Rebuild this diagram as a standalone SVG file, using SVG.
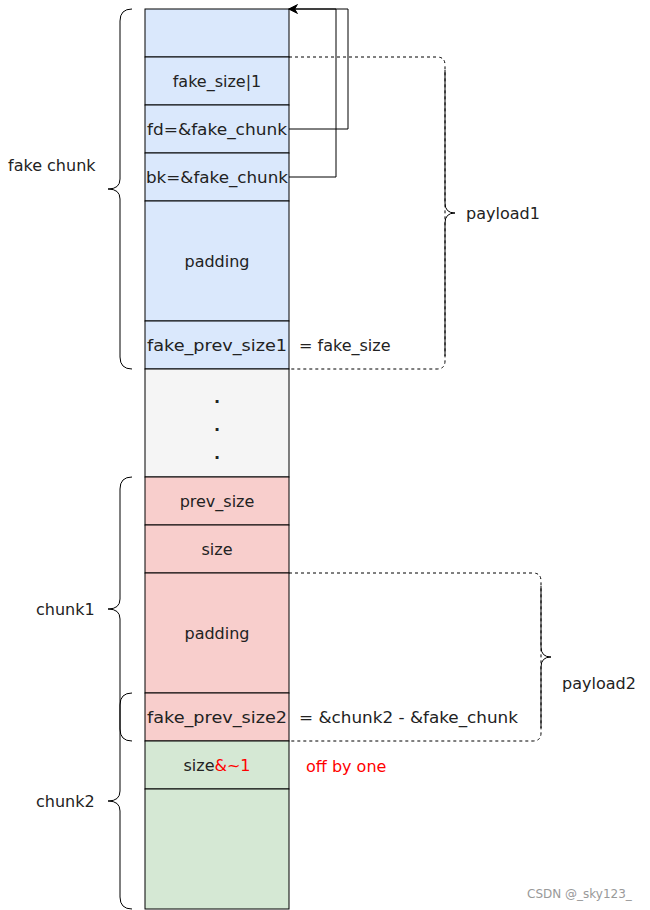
<svg xmlns="http://www.w3.org/2000/svg" width="650" height="910" viewBox="0 0 650 910">
<defs>
<style>
.c{stroke:#000;stroke-width:1}
.b{fill:#dae8fc}.g{fill:#f5f5f5}.r{fill:#f8cecc}.gr{fill:#d5e8d4}
text{font-family:"DejaVu Sans","Liberation Sans",sans-serif;font-size:16px;fill:#222}
.m{text-anchor:middle}
.dot{font-weight:bold}
.br{fill:none;stroke:#000;stroke-width:1}
.d{fill:none;stroke:#000;stroke-dasharray:3 3}
.ln{fill:none;stroke:#000}
</style>
<marker id="ah" markerWidth="10" markerHeight="10" refX="9" refY="5" orient="auto" markerUnits="userSpaceOnUse"><path d="M0,0 L10,5 L0,10 L3,5 Z" fill="#000"/></marker>
</defs>
<rect width="650" height="910" fill="#fff"/>
<g id="cells">
<g id="n0"><rect class="c b" x="145" y="9" width="144" height="48"/></g>
<g id="n1"><rect class="c b" x="145" y="57" width="144" height="48"/><text class="m" x="217" y="87">fake_size|1</text></g>
<g id="n2"><rect class="c b" x="145" y="105" width="144" height="48"/><text class="m" x="217" y="135" textLength="140" lengthAdjust="spacingAndGlyphs">fd=&amp;fake_chunk</text></g>
<g id="n3"><rect class="c b" x="145" y="153" width="144" height="48"/><text class="m" x="217" y="183" textLength="142" lengthAdjust="spacingAndGlyphs">bk=&amp;fake_chunk</text></g>
<g id="n4"><rect class="c b" x="145" y="201" width="144" height="120"/><text class="m" x="217" y="267">padding</text></g>
<g id="n5"><rect class="c b" x="145" y="321" width="144" height="48"/><text class="m" x="217" y="351" textLength="140" lengthAdjust="spacingAndGlyphs">fake_prev_size1</text></g>
<g id="n6"><rect class="c g" x="145" y="369" width="144" height="108"/><text class="m dot" x="217" y="403">.</text><text class="m dot" x="217" y="431">.</text><text class="m dot" x="217" y="459">.</text></g>
<g id="n7"><rect class="c r" x="145" y="477" width="144" height="48"/><text class="m" x="217" y="507">prev_size</text></g>
<g id="n8"><rect class="c r" x="145" y="525" width="144" height="48"/><text class="m" x="217" y="555">size</text></g>
<g id="n9"><rect class="c r" x="145" y="573" width="144" height="120"/><text class="m" x="217" y="639">padding</text></g>
<g id="n10"><rect class="c r" x="145" y="693" width="144" height="48"/><text class="m" x="217" y="723" textLength="140" lengthAdjust="spacingAndGlyphs">fake_prev_size2</text></g>
<g id="n11"><rect class="c gr" x="145" y="741" width="144" height="48"/><text class="m" x="217" y="771">size<tspan style="fill:#ff0000">&amp;~1</tspan></text></g>
<g id="n12"><rect class="c gr" x="145" y="789" width="144" height="120"/></g>
</g>
<g id="connectors">
<path class="ln" d="M289,129 H348 V9 H289" marker-end="url(#ah)"/>
<path class="ln" d="M289,177 H336 V9 H289" marker-end="url(#ah)"/>
<path class="d" d="M289,57 H437 Q445,57 445,65 V361 Q445,369 437,369 H289"/>
<path class="br" d="M445,70 V203 Q445,213 455,213 Q445,213 445,223 V356"/>
<path class="d" d="M289,573 H533 Q541,573 541,581 V733 Q541,741 533,741 H289"/>
<path class="br" d="M541,586 V647 Q541,657 551,657 Q541,657 541,667 V728"/>
<path class="br" d="M132,9 Q120,9 120,21 V179 Q120,189 108,189 Q120,189 120,199 V357 Q120,369 132,369"/>
<path class="br" d="M132,477 Q120,477 120,489 V599 Q120,609 108,609 Q120,609 120,619 V729 Q120,741 132,741"/>
<path class="br" d="M132,693 Q120,693 120,705 V791 Q120,801 108,801 Q120,801 120,811 V897 Q120,909 132,909"/>
</g>
<g id="labels">
<text x="8" y="171">fake chunk</text>
<text x="36" y="615">chunk1</text>
<text x="36" y="807">chunk2</text>
<text x="466" y="219">payload1</text>
<text x="562" y="689">payload2</text>
<text x="299" y="351">= fake_size</text>
<text x="299" y="723" textLength="219" lengthAdjust="spacingAndGlyphs">= &amp;chunk2 - &amp;fake_chunk</text>
<text x="306" y="772" style="fill:#ff0000">off by one</text>
<text x="527" y="898" style="font-size:12px;fill:#999">CSDN @_sky123_</text>
</g>
</svg>
